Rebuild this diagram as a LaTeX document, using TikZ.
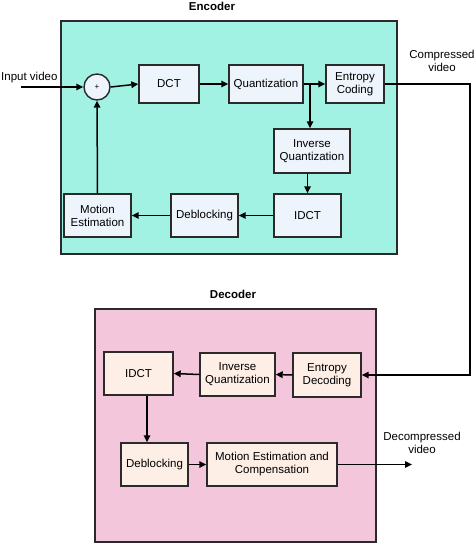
\documentclass[tikz,border=0pt]{standalone}
\usepackage{fontspec}
\setmainfont{Liberation Sans}
\usetikzlibrary{shapes,arrows.meta,calc,positioning}
\tikzstyle{arrow} = [line width=1.5pt, ->, >={Triangle[length=7pt,width=6.5pt]}]
\definecolor{encbg}{HTML}{A2F2E4}
\definecolor{encbox}{HTML}{EEF4FC}
\definecolor{decbg}{HTML}{F4C6DC}
\definecolor{decbox}{HTML}{FDEEE6}
\definecolor{edge}{HTML}{2A2A2A}

\begin{document}
\begin{tikzpicture}[x=1pt,y=-1pt]
\tikzset{blk/.style={draw=edge,line width=1.4pt,align=center,inner sep=1pt,
  font=\fontsize{11.5}{13}\selectfont},
  encblk/.style={blk,fill=encbox}, decblk/.style={blk,fill=decbox},
  lbl/.style={align=center,font=\fontsize{11.5}{13}\selectfont}}
\useasboundingbox (0,0) rectangle (474,543);

% encoder
\draw[draw=edge,line width=1.4pt,fill=encbg] (61,21) rectangle (397,254);
\node[lbl,font=\fontsize{11.5}{13}\selectfont\bfseries] (enctitle) at (212,6) {Encoder};
\node[encblk,circle,minimum size=26pt,inner sep=0pt,font=\fontsize{8}{9}\selectfont] (sum) at (97,87) {+};
\node[encblk,minimum width=60pt,minimum height=38pt] (dct) at (169,84) {DCT};
\node[encblk,minimum width=74pt,minimum height=38pt] (quant) at (266,84) {Quantization};
\node[encblk,minimum width=58pt,minimum height=38pt] (ec) at (355,84) {Entropy\\Coding};
\node[encblk,minimum width=76pt,minimum height=44pt] (iq) at (312,151) {Inverse\\Quantization};
\node[encblk,minimum width=67pt,minimum height=43pt] (idct) at (307.5,215.5) {IDCT};
\node[encblk,minimum width=67pt,minimum height=43pt] (dbk) at (204.5,215.5) {Deblocking};
\node[encblk,minimum width=67pt,minimum height=43pt] (me) at (97.5,215.5) {Motion\\Estimation};

\node[lbl,anchor=west,inner sep=0pt] (inlbl) at (1,78) {Input video};
\coordinate (in) at (21,87);
\node[lbl] (cmplbl) at (442,61) {Compressed\\video};
\coordinate (br) at (310,84);
\coordinate (turn) at (470,0);

\draw[arrow] (in) -- (sum.west);
\draw[arrow] (sum.east) -- (dct.west);
\draw[arrow] (dct.east) -- (quant.west);
\draw[arrow] (quant.east) -- (quant.east -| ec.west);
\draw[arrow] (br) -- (br |- iq.north);
\draw[arrow] (iq.south -| idct.north) -- (idct.north);
\draw[arrow] (idct.west) -- (dbk.east);
\draw[arrow] (dbk.west) -- (me.east);
\draw[arrow] (me.north) -- (sum.south);

% decoder
\draw[draw=edge,line width=1.4pt,fill=decbg] (95,309) rectangle (376,542);
\node[lbl,font=\fontsize{11.5}{13}\selectfont\bfseries] (dectitle) at (233,294) {Decoder};
\node[decblk,minimum width=69pt,minimum height=43pt] (didct) at (138.5,373.5) {IDCT};
\node[decblk,minimum width=75pt,minimum height=43pt] (diq) at (237.5,374.5) {Inverse\\Quantization};
\node[decblk,minimum width=68pt,minimum height=44pt] (ed) at (327,375) {Entropy\\Decoding};
\node[decblk,minimum width=67pt,minimum height=43pt] (ddbk) at (154.5,464.5) {Deblocking};
\node[decblk,minimum width=130pt,minimum height=43pt] (mec) at (272,464.5) {Motion Estimation and\\Compensation};

\node[lbl] (declbl) at (422,443) {Decompressed\\video};
\coordinate (out) at (412,464);

\draw[arrow] (ec.east) -- (ec.east -| turn) |- (ed.east);
\draw[arrow] (ed.west) -- (diq.east);
\draw[arrow] (diq.west) -- (didct.east);
\draw[arrow] ([xshift=8.5pt]didct.south) -- ([xshift=8.5pt]didct.south |- ddbk.north);
\draw[arrow] (ddbk.east) -- (mec.west);
\draw[arrow] (mec.east) -- (mec.east -| out);

\end{tikzpicture}
\end{document}
